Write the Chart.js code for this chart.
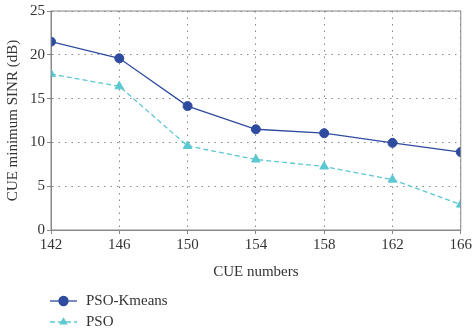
<!DOCTYPE html>
<html>
<head>
<meta charset="UTF-8">
<title>CUE minimum SINR</title>
<script src="https://cdn.jsdelivr.net/npm/chart.js"></script>
<style>
    body { margin: 0; background: #fff; }
    #box { width: 474px; height: 333px; position: relative; }
</style>
</head>
<body>
<div id="box"><canvas id="grafico"></canvas></div>
<script>
    var cueNumbers = [142, 146, 150, 154, 158, 162, 166];
    var psoKmeans = [21.5, 19.6, 14.15, 11.5, 11.05, 9.95, 8.9];
    var pso = [17.8, 16.4, 9.6, 8.05, 7.25, 5.75, 2.9];
    var seriesNames = ['PSO-Kmeans', 'PSO'];

    var fonte = 'Liberation Serif, DejaVu Serif, serif';
    var corTexto = '#333';

    function pontos(valores) {
        return cueNumbers.map(function (x, i) { return { x: x, y: valores[i] }; });
    }

    // moldura do grafico + legenda vertical embaixo
    var molduraLegenda = {
        id: 'molduraLegenda',
        afterDraw: function (chart) {
            var ctx = chart.ctx;
            var a = chart.chartArea;
            ctx.save();
            ctx.strokeStyle = '#888';
            ctx.lineWidth = 1;
            ctx.strokeRect(a.left, a.top, a.right - a.left, a.bottom - a.top);

            chart.data.datasets.forEach(function (ds, i) {
                var y = 301 + i * 21;
                ctx.strokeStyle = ds.borderColor;
                ctx.lineWidth = ds.borderWidth;
                ctx.setLineDash(ds.borderDash || []);
                ctx.beginPath();
                ctx.moveTo(50, y);
                ctx.lineTo(77, y);
                ctx.stroke();
                ctx.setLineDash([]);
                Chart.helpers.drawPoint(ctx, {
                    pointStyle: ds.pointStyle,
                    radius: i == 0 ? 4.5 : 3.5,
                    borderWidth: 1
                }, 63.5, y);
                ctx.fillStyle = ds.backgroundColor;
                ctx.fill();
                ctx.fillStyle = corTexto;
                ctx.font = '15px ' + fonte;
                ctx.textBaseline = 'middle';
                ctx.fillText(ds.label, 86, y);
            });
            ctx.restore();
        }
    };

    var ctx = document.getElementById('grafico').getContext('2d');
    new Chart(ctx, {
        type: 'scatter',
        data: {
            datasets: [
                {
                    label: seriesNames[0],
                    data: pontos(psoKmeans),
                    showLine: true,
                    borderColor: '#2f4b9f',
                    backgroundColor: '#2f4b9f',
                    borderWidth: 1.3,
                    pointStyle: 'circle',
                    pointRadius: 4.5,
                    pointBorderWidth: 1
                },
                {
                    label: seriesNames[1],
                    data: pontos(pso),
                    showLine: true,
                    borderColor: '#5cc8d2',
                    backgroundColor: '#5cc8d2',
                    borderWidth: 1.3,
                    borderDash: [5, 3],
                    pointStyle: 'triangle',
                    pointRadius: 5,
                    pointBorderWidth: 1
                }
            ]
        },
        options: {
            responsive: true,
            maintainAspectRatio: false,
            animation: false,
            layout: { padding: { top: 7, right: 12, left: 0, bottom: 52 } },
            plugins: {
                legend: { display: false },
                tooltip: { enabled: false }
            },
            scales: {
                x: {
                    type: 'linear',
                    min: 142,
                    max: 166,
                    ticks: {
                        stepSize: 4,
                        color: corTexto,
                        font: { family: fonte, size: 15 },
                        padding: 2
                    },
                    grid: {
                        color: '#888',
                        lineWidth: 1,
                        tickLength: 4,
                        tickColor: '#888'
                    },
                    border: { color: '#888', dash: [1.5, 5] },
                    title: {
                        display: true,
                        text: 'CUE numbers',
                        color: corTexto,
                        font: { family: fonte, size: 15 },
                        padding: { top: 7, bottom: 0 }
                    }
                },
                y: {
                    min: 0,
                    max: 25,
                    ticks: {
                        stepSize: 5,
                        color: corTexto,
                        font: { family: fonte, size: 15 },
                        padding: 2
                    },
                    grid: {
                        color: '#888',
                        lineWidth: 1,
                        tickLength: 4,
                        tickColor: '#888'
                    },
                    border: { color: '#888', dash: [1.5, 5] },
                    title: {
                        display: true,
                        text: 'CUE minimum SINR (dB)',
                        color: corTexto,
                        font: { family: fonte, size: 15 },
                        padding: { bottom: 2 }
                    },
                    afterFit: function (scale) { scale.width = 51; }
                }
            }
        },
        plugins: [molduraLegenda]
    });
</script>
</body>
</html>
